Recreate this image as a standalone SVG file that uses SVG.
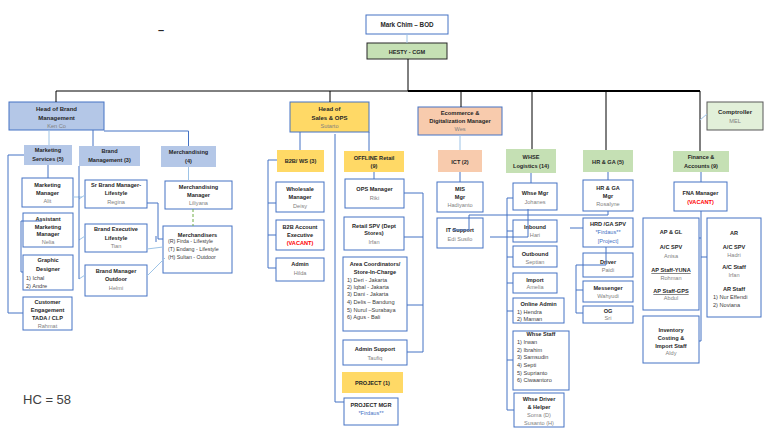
<svg xmlns="http://www.w3.org/2000/svg" width="768" height="433" viewBox="0 0 768 433">
<style>
.n{fill:#fff;stroke:#4472c4;stroke-width:1}
.hbm{fill:#b4c7e7;stroke:#4472c4;stroke-width:1}
.sb{fill:#b4c7e7}
.hso{fill:#ffd966;stroke:#4472c4;stroke-width:1}
.sy{fill:#ffd966}
.hec{fill:#f8cbad;stroke:#4472c4;stroke-width:1}
.sp{fill:#f8cbad}
.sg{fill:#c5e0b4}
.cgm{fill:#c5e0b4;stroke:#262626;stroke-width:1}
.cmp{fill:#e2f0d9;stroke:#595959;stroke-width:1}
text{font-family:"Liberation Sans",Arial,sans-serif;font-size:5.6px;fill:#262626;text-anchor:middle}
.h{font-weight:bold}
.m{fill:#7f7f7f}
.l{text-anchor:start;fill:#404040}
.v{fill:#ff0000;font-weight:bold}
.f{fill:#4472c4}
.u{font-weight:bold;text-decoration:underline}
.c{fill:none;stroke:#4472c4;stroke-width:1}
.cl{fill:none;stroke:#9dc3e6;stroke-width:1}
.k{fill:none;stroke:#000;stroke-width:1}
.kk{fill:none;stroke:#000;stroke-width:2}
.gd{fill:none;stroke:#70ad47;stroke-width:1;stroke-dasharray:3 2}
</style>
<rect width="768" height="433" fill="#fff"/>
<text x="158" y="33.5" style="font-size:11px;font-weight:bold;text-anchor:start">–</text>
<text x="23" y="404" style="font-size:13px;text-anchor:start;fill:#404040">HC = 58</text>

<g id="bod"><rect class="n" x="366" y="15" width="82" height="19"/><text class="h" x="407" y="27" style="font-size:6.3px">Mark Chim – BOD</text></g>
<g id="cgm"><rect class="cgm" x="367" y="43" width="80" height="16"/><text class="h" x="407" y="53.5">HESTY - CGM</text></g>

<g id="head-brand"><rect class="hbm" x="9" y="102" width="95" height="28"/><text class="h" x="56.5" y="111" style="font-size:6px">Head of  Brand</text><text class="h" x="56.5" y="119.5" style="font-size:6px">Management</text><text class="m" x="56.5" y="128">Ken Co</text></g>
<g id="mkt-services"><rect class="sb" x="24" y="145" width="48" height="20"/><text class="h" x="48" y="152">Marketing</text><text class="h" x="48" y="160.5">Services (5)</text></g>
<g id="brand-mgmt"><rect class="sb" x="79" y="146" width="61" height="20"/><text class="h" x="109.5" y="153">Brand</text><text class="h" x="109.5" y="161.5">Management (3)</text></g>
<g id="merch"><rect class="sb" x="161" y="146" width="55" height="21"/><text class="h" x="188.5" y="154">Merchandising</text><text class="h" x="188.5" y="162.5">(4)</text></g>
<g id="mkt-mgr"><rect class="n" x="22" y="178" width="51" height="29"/><text class="h" x="47.5" y="187">Marketing</text><text class="h" x="47.5" y="195">Manager</text><text class="m" x="47.5" y="203">Alit</text></g>
<g id="asst-mkt"><rect class="n" x="23" y="213" width="50" height="34"/><text class="h" x="48" y="221">Assistant</text><text class="h" x="48" y="228.5">Marketing</text><text class="h" x="48" y="236">Manager</text><text class="m" x="48" y="243.5">Nelia</text></g>
<g id="graphic"><rect class="n" x="23" y="255" width="50" height="35"/><text class="h" x="48" y="262">Graphic</text><text class="h" x="48" y="270.5">Designer</text><text class="l" x="26" y="279.5">1) Ichal</text><text class="l" x="26" y="287.5">2) Andre</text></g>
<g id="cust-eng"><rect class="n" x="23" y="297" width="49" height="33"/><text class="h" x="47.5" y="304">Customer</text><text class="h" x="47.5" y="312">Engagement</text><text class="h" x="47.5" y="320">TADA / CLP</text><text class="m" x="47.5" y="327.5">Rahmat</text></g>
<g id="sr-brand"><rect class="n" x="85" y="180" width="62" height="28"/><text class="h" x="116" y="187">Sr Brand Manager-</text><text class="h" x="116" y="195">Lifestyle</text><text class="m" x="116" y="203.5">Regina</text></g>
<g id="brand-exec"><rect class="n" x="85" y="224" width="62" height="28"/><text class="h" x="116" y="231">Brand Executive</text><text class="h" x="116" y="239.5">Lifestyle</text><text class="m" x="116" y="247.5">Tian</text></g>
<g id="brand-outdoor"><rect class="n" x="85" y="265" width="62" height="31"/><text class="h" x="116" y="272.5">Brand Manager</text><text class="h" x="116" y="281">Outdoor</text><text class="m" x="116" y="289.5">Helmi</text></g>
<g id="merch-mgr"><rect class="n" x="165" y="181" width="67" height="28"/><text class="h" x="198.5" y="189">Merchandising</text><text class="h" x="198.5" y="196.5">Manager</text><text class="m" x="198.5" y="204.5">Liliyana</text></g>
<g id="merchandisers"><rect class="n" x="163" y="226" width="69" height="47"/><text class="h" x="197.5" y="237">Merchandisers</text><text class="l" x="168" y="243" style="font-size:5.3px">(R)  Firda   - Lifestyle</text><text class="l" x="168" y="251" style="font-size:5.3px">(T)  Endang - Lifestyle</text><text class="l" x="168" y="259" style="font-size:5.3px">(H) Sultan - Outdoor</text></g>

<g id="head-sales"><rect class="hso" x="290" y="102" width="79" height="30"/><text class="h" x="329.5" y="111" style="font-size:6px">Head of</text><text class="h" x="329.5" y="119.5" style="font-size:6px">Sales &amp; OPS</text><text class="m" x="329.5" y="128">Sutarto</text></g>
<g id="b2b"><rect class="sy" x="277" y="150" width="47" height="22"/><text class="h" x="300.5" y="163">B2B/ WS (3)</text></g>
<g id="wholesale"><rect class="n" x="276" y="182" width="48" height="30"/><text class="h" x="300" y="191">Wholesale</text><text class="h" x="300" y="199">Manager</text><text class="m" x="300" y="207.5">Deisy</text></g>
<g id="b2b-ae"><rect class="n" x="276" y="220" width="48" height="30"/><text class="h" x="300" y="228.5">B2B Account</text><text class="h" x="300" y="236.5">Executive</text><text class="v" x="300" y="244.5">(VACANT)</text></g>
<g id="admin-b2b"><rect class="n" x="276" y="258" width="48" height="23"/><text class="h" x="300" y="266">Admin</text><text class="m" x="300" y="274.5">Hilda</text></g>
<g id="offline"><rect class="sy" x="344" y="151" width="60" height="21"/><text class="h" x="374" y="159.5">OFFLINE Retail</text><text class="h" x="374" y="168">(9)</text></g>
<g id="ops-mgr"><rect class="n" x="345" y="179" width="59" height="29"/><text class="h" x="374.5" y="191">OPS Manager</text><text class="m" x="374.5" y="199.5">Riki</text></g>
<g id="retail-spv"><rect class="n" x="344" y="217" width="60" height="33"/><text class="h" x="374" y="228">Retail SPV (Dept</text><text class="h" x="374" y="235">Stores)</text><text class="m" x="374" y="243.5">Irfan</text></g>
<g id="area-coord"><rect class="n" x="343" y="257" width="64" height="74"/><text class="h" x="375" y="266">Area Coordinators/</text><text class="h" x="375" y="274">Store-In-Charge</text><text class="l" x="347" y="281.5">1) Deri  - Jakarta</text><text class="l" x="347" y="288.5">2) Iqbal - Jakarta</text><text class="l" x="347" y="296">3) Dani  - Jakarta</text><text class="l" x="347" y="304">4) Delis – Bandung</text><text class="l" x="347" y="312">5) Nurul –Surabaya</text><text class="l" x="347" y="319">6) Agus - Bali</text></g>
<g id="admin-support"><rect class="n" x="343" y="340" width="64" height="25"/><text class="h" x="375" y="351">Admin Support</text><text class="m" x="375" y="359.5">Taufiq</text></g>
<g id="project"><rect class="sy" x="342" y="372" width="61" height="21"/><text class="h" x="372.5" y="384.5">PROJECT (1)</text></g>
<g id="project-mgr"><rect class="n" x="344" y="398" width="54" height="27"/><text class="h" x="371" y="406.5">PROJECT MGR</text><text class="f" x="371" y="415">*Firdaus**</text></g>

<g id="ecommerce"><rect class="hec" x="418" y="107" width="84" height="28"/><text class="h" x="460" y="114.5" style="font-size:5.8px">Ecommerce  &amp;</text><text class="h" x="460" y="123" style="font-size:5.8px">Digitalization Manager</text><text class="m" x="460" y="131">Wes</text></g>
<g id="ict"><rect class="sp" x="438" y="150" width="44" height="22"/><text class="h" x="460" y="164">ICT (2)</text></g>
<g id="mis-mgr"><rect class="n" x="437" y="182" width="46" height="30"/><text class="h" x="460" y="191">MIS</text><text class="h" x="460" y="199">Mgr</text><text class="m" x="460" y="206.5">Hadiyanto</text></g>
<g id="it-support"><rect class="n" x="437" y="218" width="46" height="30"/><text class="h" x="460" y="232">IT Support</text><text class="m" x="460" y="240.5">Edi Susilo</text></g>

<g id="whse"><rect class="sg" x="506" y="149" width="50" height="24"/><text class="h" x="531" y="158.5">WHSE</text><text class="h" x="531" y="167.5">Logistics (14)</text></g>
<g id="whse-mgr"><rect class="n" x="513" y="183" width="44" height="27"/><text class="h" x="535" y="195">Whse Mgr</text><text class="m" x="535" y="203.5">Johanes</text></g>
<g id="inbound"><rect class="n" x="513" y="220" width="44" height="22"/><text class="h" x="535" y="228.5">Inbound</text><text class="m" x="535" y="237">Hari</text></g>
<g id="outbound"><rect class="n" x="513" y="246" width="44" height="21"/><text class="h" x="535" y="255.5">Outbound</text><text class="m" x="535" y="263.5">Septian</text></g>
<g id="import"><rect class="n" x="513" y="273" width="44" height="20"/><text class="h" x="535" y="281.5">Import</text><text class="m" x="535" y="288.5">Amelia</text></g>
<g id="online-admin"><rect class="n" x="513" y="298" width="51" height="25"/><text class="h" x="538.5" y="306">Online Admin</text><text class="l" x="517" y="313.5">1) Hendra</text><text class="l" x="517" y="320.5">2) Maman</text></g>
<g id="whse-staff"><rect class="n" x="513" y="331" width="56" height="59"/><text class="h" x="541" y="335.5">Whse Staff</text><text class="l" x="517" y="344">1) Irwan</text><text class="l" x="517" y="351.5">2) Ibrahim</text><text class="l" x="517" y="358.5">3) Samsudin</text><text class="l" x="517" y="366.5">4) Septi</text><text class="l" x="517" y="374.5">5) Suprianto</text><text class="l" x="517" y="381.5">6) Ciwaantoro</text></g>
<g id="whse-driver"><rect class="n" x="514" y="393" width="50" height="34"/><text class="h" x="539" y="401">Whse Driver</text><text class="h" x="539" y="409">&amp; Helper</text><text class="m" x="539" y="417">Soma (D)</text><text class="m" x="539" y="424.5">Susanto (H)</text></g>

<g id="hrga"><rect class="sg" x="583" y="150" width="50" height="22"/><text class="h" x="608" y="163.5">HR &amp; GA (5)</text></g>
<g id="hrga-mgr"><rect class="n" x="583" y="180" width="50" height="31"/><text class="h" x="608" y="190">HR &amp; GA</text><text class="h" x="608" y="198">Mgr</text><text class="m" x="608" y="205.5">Rosalyne</text></g>
<g id="hrd-spv"><rect class="n" x="583" y="218" width="50" height="29"/><text class="h" x="608" y="225.5">HRD /GA SPV</text><text class="f" x="608" y="234">*Firdaus**</text><text class="f" x="608" y="242.5">[Project]</text></g>
<g id="driver"><rect class="n" x="583" y="253" width="50" height="24"/><text class="h" x="608" y="264">Driver</text><text class="m" x="608" y="271.5">Paidi</text></g>
<g id="messenger"><rect class="n" x="583" y="281" width="50" height="21"/><text class="h" x="608" y="290">Messenger</text><text class="m" x="608" y="297.5">Wahyudi</text></g>
<g id="og"><rect class="n" x="583" y="306" width="50" height="17"/><text class="h" x="608" y="313">OG</text><text class="m" x="608" y="320">Sri</text></g>

<g id="comptroller"><rect class="cmp" x="707" y="102" width="56" height="28"/><text class="h" x="735" y="114" style="font-size:6px">Comptroller</text><text class="m" x="735" y="122.5">MEL</text></g>
<g id="finance"><rect class="sg" x="673" y="151" width="56" height="21"/><text class="h" x="701" y="159">Finance &amp;</text><text class="h" x="701" y="168">Accounts (9)</text></g>
<g id="fna-mgr"><rect class="n" x="674" y="182" width="53" height="29"/><text class="h" x="700.5" y="195">FNA Manager</text><text class="v" x="700.5" y="203.5">(VACANT)</text></g>
<g id="apgl"><rect class="n" x="643" y="218" width="56" height="92"/><text class="h" x="671" y="234">AP &amp; GL</text><text class="h" x="671" y="249">A/C SPV</text><text class="m" x="671" y="257.5">Anisa</text><text class="u" x="671" y="272">AP Staff-YUNA</text><text class="m" x="671" y="280">Rohman</text><text class="u" x="671" y="293">AP Staff-GPS</text><text class="m" x="671" y="299.5">Abdul</text></g>
<g id="ar"><rect class="n" x="707" y="218" width="54" height="99"/><text class="h" x="734" y="235">AR</text><text class="h" x="734" y="249">A/C SPV</text><text class="m" x="734" y="256.5">Hadri</text><text class="h" x="734" y="269">A/C Staff</text><text class="m" x="734" y="276.5">Irfan</text><text class="h" x="734" y="291">AR Staff</text><text class="l" x="713" y="299">1) Nur Effendi</text><text class="l" x="713" y="306.5">2) Noviana</text></g>
<g id="inventory"><rect class="n" x="643" y="316" width="56" height="47"/><text class="h" x="671" y="332">Inventory</text><text class="h" x="671" y="340">Costing &amp;</text><text class="h" x="671" y="347.5">Import Staff</text><text class="m" x="671" y="355">Aldy</text></g>

<g id="connectors">
<path class="k" d="M408 59V91M56 91H408M56 91V102M330 91V102M461 91V107M532 91V149M606 91V150M700 91V151"/>
<path class="kk" d="M408 91H700"/>
<path class="cl" d="M407 34V43M49 130V145M700 120L707 114M73 197H82M188.5 167V181M460 135V150M147 276L165 258M147 249L163 247M79 199L85 195M79 240L85 236M79 279L85 275"/>
<path class="c" d="M93 130V146M104 131H188.5V146M48 165V178M24 155H8V313H23M42 221H21V272H23M79 166V279M147 203H158V239H163M156 236V242"/>
<path class="gd" d="M193 209V226"/>
<path class="c" d="M300 132V150M369 132V151M335 134V402H344M277 160H268V268H276M268 203H276M268 235H276M374 172V179M404 193H423V352H407M404 237H423M407 305H423M460 172V182"/>
<path class="c" d="M608 211V215H469V230H452M528 209V237H490M531 173V183M513 198H507V410H514M507 231H513M507 257H513M507 283H513M507 311H513M507 360H513"/>
<path class="c" d="M608 172V180M606 247V265H576V313H583M576 290H583M570 228H583M701 172V182M701 211V341H699M699 238H701M701 257H707"/>
</g>
</svg>
